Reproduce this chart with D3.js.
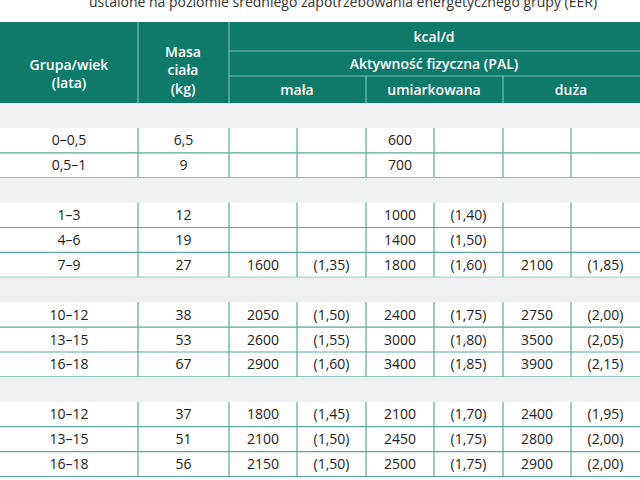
<!DOCTYPE html>
<html><head><meta charset="utf-8">
<script src="https://cdn.jsdelivr.net/npm/d3@7"></script>
<style>body{margin:0;background:#fff}text{font-family:"Open Sans","Noto Sans",sans-serif}</style>
</head><body><svg id="c" width="640" height="480"></svg>
<script>
const title = "ustalone na poziomie średniego zapotrzebowania energetycznego grupy (EER)";
const groups = ["0–0,5","0,5–1",null,"1–3","4–6","7–9",null,"10–12","13–15","16–18",null,"10–12","13–15","16–18"];
const masses = ["6,5","9",null,"12","19","27",null,"38","53","67",null,"37","51","56"];
const mala =     ["","",null,"","","1600",null,"2050","2600","2900",null,"1800","2100","2150"];
const malaPal =  ["","",null,"","","(1,35)",null,"(1,50)","(1,55)","(1,60)",null,"(1,45)","(1,50)","(1,50)"];
const umiar =    ["600","700",null,"1000","1400","1800",null,"2400","3000","3400",null,"2100","2450","2500"];
const umiarPal = ["","",null,"(1,40)","(1,50)","(1,60)",null,"(1,75)","(1,80)","(1,85)",null,"(1,70)","(1,75)","(1,75)"];
const duza =     ["","",null,"","","2100",null,"2750","3500","3900",null,"2400","2800","2900"];
const duzaPal =  ["","",null,"","","(1,85)",null,"(2,00)","(2,05)","(2,15)",null,"(1,95)","(2,00)","(2,00)"];
const colEdges = [0,138,229,297,366,434,503,571,640];

const svg = d3.select("#c");
const teal="#0f7a68", line="#5fa89b", gray="#eef0f1";
svg.append("text").attr("x",343).attr("y",7).attr("text-anchor","middle").attr("font-size",14).attr("fill","#333").text(title);
const H0=22, H1=51, H2=76, H3=103, bandTop=103;
svg.append("rect").attr("x",0).attr("y",H0).attr("width",640).attr("height",H3-H0).attr("fill",teal);
const hl=(x1,y1,x2,y2)=>svg.append("line").attr("x1",x1).attr("y1",y1).attr("x2",x2).attr("y2",y2).attr("stroke","#7cc3b3").attr("stroke-width",1.2);
hl(colEdges[2],H1,640,H1); hl(colEdges[2],H2,640,H2);
[1,2].forEach(i=>hl(colEdges[i],H0,colEdges[i],H3));
[4,6].forEach(i=>hl(colEdges[i],H2,colEdges[i],H3));
const ht=(x,y,t)=>svg.append("text").attr("x",x).attr("y",y).attr("text-anchor","middle").attr("font-size",14).attr("font-weight",600).attr("fill","#fff").text(t);
ht(69,70,"Grupa/wiek"); ht(69,88,"(lata)");
ht(183,57,"Masa"); ht(183,75,"ciała"); ht(183,94,"(kg)");
ht(434,42,"kcal/d"); ht(434,69,"Aktywność fizyczna (PAL)");
[["mała",2],["umiarkowana",4],["duża",6]].forEach(([t,i])=>ht(colEdges[i+1],95,t));

const allRows=[null].concat(groups.map((g,i)=>i));
const y=d3.scaleLinear().domain([0,allRows.length]).range([bandTop,bandTop+24.9*allRows.length]);
const cols=[groups,masses,mala,malaPal,umiar,umiarPal,duza,duzaPal];
allRows.forEach((r,k)=>{
  const y0=y(k), y1=y(k+1);
  if(r===null || groups[r]===null){
    svg.append("rect").attr("x",0).attr("y",y0).attr("width",640).attr("height",y1-y0).attr("fill",gray);
    return;
  }
  cols.forEach((c,j)=>{
    const cx=(colEdges[j]+colEdges[j+1])/2;
    svg.append("text").attr("x",cx).attr("y",(y0+y1)/2+5).attr("text-anchor","middle").attr("font-size",14).attr("fill","#222").text(c[r]);
    if(j>0) svg.append("line").attr("x1",colEdges[j]).attr("x2",colEdges[j]).attr("y1",y0).attr("y2",y1).attr("stroke",line).attr("stroke-width",1.2);
  });
  svg.append("line").attr("x1",0).attr("x2",640).attr("y1",y1).attr("y2",y1).attr("stroke",line).attr("stroke-width",1.2);
});
</script></body></html>
